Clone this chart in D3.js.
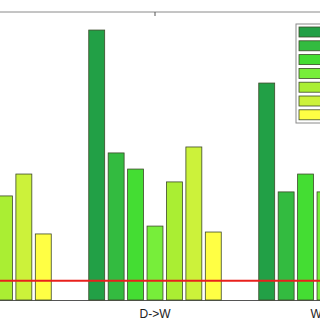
<!DOCTYPE html>
<html>
<head>
<meta charset="UTF-8">
<title>Transitions</title>
<style>
  body { margin: 0; background: #fff; }
  svg { display: block; font-family: "Liberation Sans", Arial, sans-serif; }
</style>
</head>
<body>
<div id="vis"></div>
<script src="https://d3js.org/d3.v7.min.js"></script>
<script>
// groups along x (left and right ones are partly outside the crop)
var groups = ["L->D", "D->W", "W->L"];
var series = ["S1", "S2", "S3", "S4", "S5", "S6", "S7"];
var colors = ["#22a046", "#33bb40", "#44dd33", "#77ee3a", "#aaee33", "#ccf23a", "#ffff44"];
// one array of values per group, in series order
var valsLD = [12.4, 6.9, 7.3, 4.5, 5.42, 6.56, 3.44];
var valsDW = [14.06, 7.66, 6.82, 3.85, 6.15, 7.97, 3.54];
var valsWL = [11.3, 5.63, 6.56, 5.63, 5.1, 7.0, 3.9];
var allVals = [valsLD, valsDW, valsWL];
var threshold = 1;

var width = 320, height = 320;
var svg = d3.select("#vis").append("svg")
	.attr("width", width)
	.attr("height", height);

var x0 = d3.scaleBand()
	.domain(groups)
	.range([-100, 410])
	.paddingInner(0.2)
	.paddingOuter(0.1);
var x1 = d3.scaleBand()
	.domain(series)
	.range([0, x0.bandwidth()])
	.paddingInner(0.18)
	.paddingOuter(0.09);
var y = d3.scaleLinear()
	.domain([0, 15])
	.range([300, 12]);

// frame top line + bottom axis
svg.append("line")
	.attr("x1", -200).attr("x2", 600)
	.attr("y1", y.range()[1]).attr("y2", y.range()[1])
	.attr("stroke", "#8a8a8a").attr("stroke-width", 1);

var gx = svg.append("g").attr("transform", "translate(0," + y(0) + ")");

// bars
groups.forEach(function(g, gi) {
	var grp = svg.append("g").attr("transform", "translate(" + x0(g) + ",0)");
	grp.selectAll("rect")
		.data(allVals[gi])
		.enter()
		.append("rect")
		.attr("x", function(d, i) { return x1(series[i]); })
		.attr("y", function(d) { return y(d); })
		.attr("width", x1.bandwidth())
		.attr("height", function(d) { return y(0) - y(d); })
		.attr("fill", function(d, i) { return colors[i]; })
		.attr("stroke", "#3d4a2a")
		.attr("stroke-width", 0.8);
});

// bottom axis
var xAxis = d3.axisBottom(x0).tickSize(0).tickPadding(9);
gx.call(xAxis);
gx.select(".domain").attr("stroke", "#555");
gx.selectAll("text").attr("font-size", 12).attr("fill", "#222")
	.attr("font-family", "Liberation Sans, Arial, sans-serif");

// top ticks at group centres
svg.selectAll("line.toptick")
	.data(groups)
	.enter()
	.append("line")
	.attr("class", "toptick")
	.attr("x1", function(d) { return x0(d) + x0.bandwidth() / 2; })
	.attr("x2", function(d) { return x0(d) + x0.bandwidth() / 2; })
	.attr("y1", y.range()[1]).attr("y2", y.range()[1] + 4)
	.attr("stroke", "#555");

// threshold line
svg.append("line")
	.attr("x1", -200).attr("x2", 600)
	.attr("y1", y(threshold)).attr("y2", y(threshold))
	.attr("stroke", "#e8201c").attr("stroke-width", 2);

// legend
var legend = svg.append("g").attr("transform", "translate(296,24)");
legend.append("rect")
	.attr("width", 90).attr("height", 99)
	.attr("fill", "#fff").attr("stroke", "#8a8a8a");
legend.selectAll("rect.sw")
	.data(series)
	.enter()
	.append("rect")
	.attr("class", "sw")
	.attr("x", 3)
	.attr("y", function(d, i) { return 3 + i * 13.8; })
	.attr("width", 24).attr("height", 10)
	.attr("fill", function(d, i) { return colors[i]; })
	.attr("stroke", "#3d4a2a").attr("stroke-width", 0.8);
legend.selectAll("text")
	.data(series)
	.enter()
	.append("text")
	.attr("x", 32)
	.attr("y", function(d, i) { return 12 + i * 13.8; })
	.attr("font-size", 10)
	.text(function(d) { return d; });
</script>
</body>
</html>
